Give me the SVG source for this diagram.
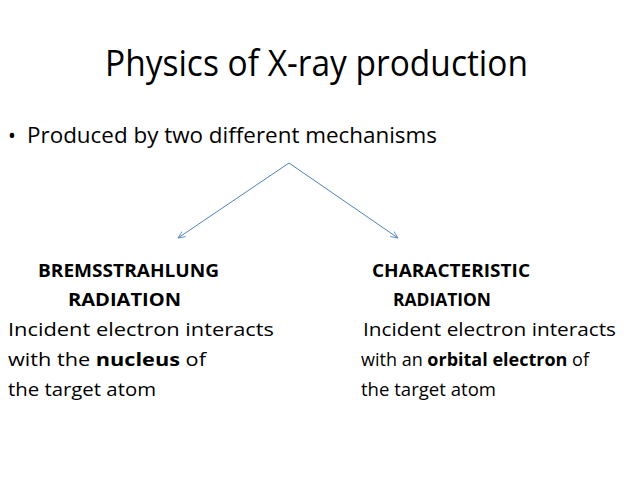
<svg xmlns="http://www.w3.org/2000/svg" width="638" height="479" viewBox="0 0 638 479">
<style>
text{font-family:"Open Sans","Liberation Sans",sans-serif;fill:#000}
.t{font-size:36px}
.b{font-size:21px}
.h{font-size:18px;font-weight:bold}
.n{font-size:18.5px}
.c{stroke:#4f81bd;stroke-width:1;fill:none}
</style>
<defs><marker id="a" viewBox="0 0 10 10" refX="9" refY="5" markerWidth="8" markerHeight="8" orient="auto"><path d="M0,1 L9,5 L0,9" fill="none" stroke="#4f81bd" stroke-width="1"/></marker></defs>
<rect width="638" height="479" fill="#fff"/>
<g id="title"><text class="t" x="105" y="76" textLength="423" lengthAdjust="spacingAndGlyphs">Physics of X-ray production</text></g>
<g id="bullet"><text class="b" x="8" y="143">•</text><text class="b" x="27" y="143" textLength="410" lengthAdjust="spacingAndGlyphs">Produced by two different mechanisms</text></g>
<g id="connectors"><path class="c" d="M289,163 L178,238" marker-end="url(#a)"/><path class="c" d="M289,163 L398,238" marker-end="url(#a)"/></g>
<g id="brems">
<text class="h" x="38" y="277" textLength="181" lengthAdjust="spacingAndGlyphs">BREMSSTRAHLUNG</text>
<text class="h" x="68" y="306" textLength="113" lengthAdjust="spacingAndGlyphs">RADIATION</text>
<text class="n" x="8" y="336" textLength="266" lengthAdjust="spacingAndGlyphs">Incident electron interacts</text>
<text class="n" x="8" y="366" textLength="198" lengthAdjust="spacingAndGlyphs">with the <tspan font-weight="bold">nucleus</tspan> of</text>
<text class="n" x="8" y="396" textLength="148" lengthAdjust="spacingAndGlyphs">the target atom</text>
</g>
<g id="characteristic">
<text class="h" x="372" y="277" textLength="158" lengthAdjust="spacingAndGlyphs">CHARACTERISTIC</text>
<text class="h" x="393" y="306" textLength="98" lengthAdjust="spacingAndGlyphs">RADIATION</text>
<text class="n" x="363" y="336" textLength="253" lengthAdjust="spacingAndGlyphs">Incident electron interacts</text>
<text class="n" x="361" y="366" textLength="228" lengthAdjust="spacingAndGlyphs">with an <tspan font-weight="bold">orbital electron</tspan> of</text>
<text class="n" x="361" y="396" textLength="135" lengthAdjust="spacingAndGlyphs">the target atom</text>
</g>
</svg>
